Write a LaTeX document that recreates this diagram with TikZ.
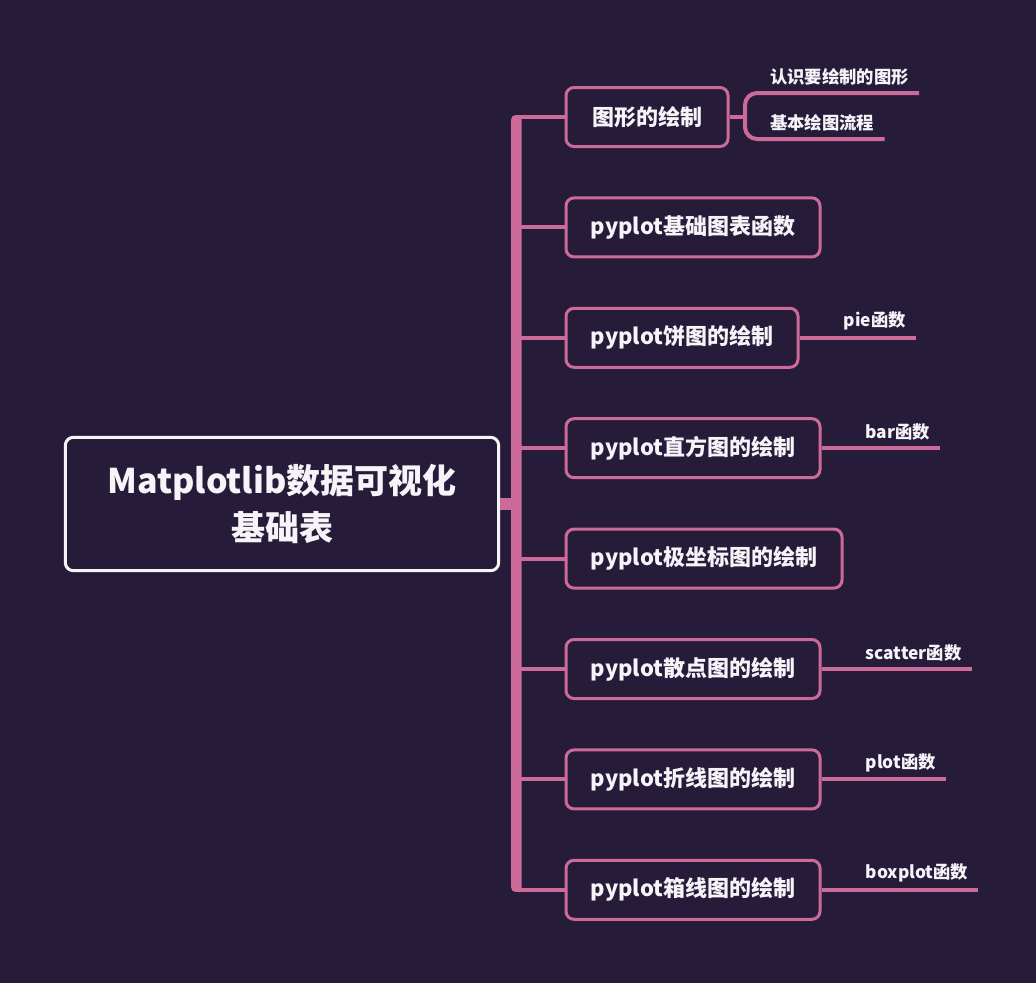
\documentclass[tikz,border=0pt]{standalone}
\usepackage{fontspec}
\setmainfont{Noto Sans CJK SC}
\usepackage{xcolor}
\definecolor{mapBg}{HTML}{261C3A}
\definecolor{mapPink}{HTML}{CC6A99}
\definecolor{mapText}{HTML}{F6F4F8}

\begin{document}
\begin{tikzpicture}[
  x=0.75pt, y=-0.75pt,
  font=\bfseries,
  topic/.style={draw=mapPink, line width=2.25pt, rounded corners=6pt, text=mapText,
    minimum height=44.25pt, inner sep=0pt, anchor=west,
    font=\fontsize{16.5}{20}\selectfont\bfseries},
  leaf/.style={text=mapText, inner xsep=7.5pt, inner ysep=5.5pt, anchor=south west,
    font=\fontsize{13}{16}\selectfont\bfseries},
  branch/.style={draw=mapPink, line width=3pt}
]

  % Canvas
  \fill[mapBg] (0,0) rectangle (1036,983);
  \useasboundingbox (0,0) rectangle (1036,983);

  % ----------------------------------------------------
  % Central topic
  % ----------------------------------------------------
  \node[draw=mapText, line width=2.25pt, rounded corners=6pt, text=mapText,
        minimum width=325pt, minimum height=100pt, align=center,
        font=\fontsize{25.5}{35}\selectfont\bfseries] (root) at (282,504)
    {Matplotlib数据可视化\\基础表};

  % ----------------------------------------------------
  % Main topics
  % ----------------------------------------------------
  \foreach \i/\w/\lbl in {1/121.5/图形的绘制, 2/190.5/pyplot基础图表函数,
      3/174/pyplot饼图的绘制, 4/190.5/pyplot直方图的绘制, 5/207/pyplot极坐标图的绘制,
      6/190.5/pyplot散点图的绘制, 7/190.5/pyplot折线图的绘制, 8/190.5/pyplot箱线图的绘制} {
    \node[topic, minimum width=\w pt] (c\i) at (564.5, {117+110.4*(\i-1)}) {\lbl};
  }

  % Trunk (thick bar, rounded on the outer side)
  \coordinate (trunk) at (516,504);
  \fill[mapPink] (521.5,115) -- (521,115) .. controls (511,115) .. (511,126)
    -- (511,881) .. controls (511,892) .. (521,892) -- (521.5,892) -- cycle;
  \draw[draw=mapPink, line width=9pt] (root.east) -- (trunk);
  \foreach \i in {1,...,8} {
    \draw[branch] (c\i.west -| trunk) -- (c\i.west);
  }

  % ----------------------------------------------------
  % Sub topics
  % ----------------------------------------------------
  \coordinate (j1) at (745,117);
  \node[leaf] (g1a) at (760,93) {认识要绘制的图形};
  \node[leaf] (g1b) at (760,139) {基本绘图流程};
  \draw[branch] (c1.east) -- (j1);
  \draw[branch, rounded corners=9pt] (g1a.south east) -| (j1) |- (g1b.south east);

  \foreach \i/\lbl in {3/pie函数, 4/bar函数, 6/scatter函数, 7/plot函数, 8/boxplot函数} {
    \node[leaf] (g\i) at ([xshift=25.5pt]c\i.east) {\lbl};
    \draw[branch] (c\i.east) -- (c\i.east -| g\i.east);
  }

\end{tikzpicture}
\end{document}
